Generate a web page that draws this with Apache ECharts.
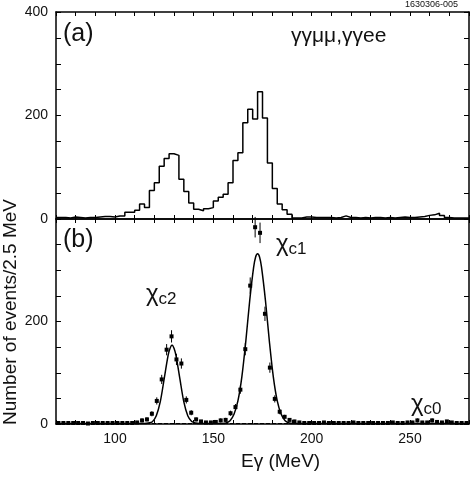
<!DOCTYPE html>
<html><head><meta charset="utf-8">
<script src="https://cdn.jsdelivr.net/npm/echarts@6/dist/echarts.min.js"></script>
<style>html,body{margin:0;padding:0;background:#fff}#c{width:474px;height:478px}</style>
</head><body><div id="c"></div>
<script>
// histogram (a): 84 bins of 2.5 MeV starting at 70 MeV
const binStart = 70, binWidth = 2.5;
const histA = [3,3,2,4,3,2,3,3,4,5,5,4,6,6,13,13,17,29,22,55,70,102,117,126,123,77,53,31,19,16,20,22,35,42,48,70,113,128,186,212,193,246,195,108,59,29,18,9,2,2,4,4,3,3,3,3,2,3,6,3,3,2,3,2,3,3,2,3,2,3,4,3,3,4,5,7,8,11,7,3,2,2,2,2];
// points (b), bin centers
const ptsB = [2,2,2,2,2,2,1,2,2,2,2,2,2,2,2,2,3,7,9,20,45,87,145,171,126,118,47,22,9,5,3,3,4,7,8,21,33,67,146,270,384,373,215,110,49,24,14,8,5,3,2,2,2,2,3,2,2,2,2,2,3,2,2,2,2,2,2,2,3,2,2,3,3,7,3,3,7,4,3,5,3,2,2,2];
const errB = [2,2,2,2,2,2,2,2,2,2,2,2,2,2,2,2,3,4,4,5,7,9,11,12,11,10,7,5,4,3,3,3,3,4,4,5,6,8,12,16,20,20,14,10,7,5,4,3,3,3,2,2,2,2,3,2,2,2,2,2,3,2,2,2,2,2,2,2,3,2,2,3,3,4,3,3,4,3,3,3,3,2,2,2];
// fit curve
const fitX = [70,115,117,119,121,123,125,127,128,129,130,131,133,135,137,139,141,143,150,154.5,156.5,158.5,160.5,162.5,164.5,166.5,168.5,170.5,171.5,172.5,173.5,174.5,176.5,178.5,180.5,182.5,184.5,186.5,188.5,190.5,195,280];
const fitY = [1,1,2,4.5,16,43,88,134,148,154,148,134,88,43,16,5,2,1,1,1,2,6.5,19,45,92,161,241,306,326,332,326,306,241,161,92,45,19,6.5,2,1,1,1];
const xTicks = [100,150,200,250];

const histData = histA.map((v,i)=>[binStart+i*binWidth, v]);
histData.push([binStart+histA.length*binWidth, histA[histA.length-1]]);
const ptData = ptsB.map((v,i)=>[binStart+(i+0.5)*binWidth, v, errB[i]]);
const fitData = fitX.map((x,i)=>[x, fitY[i]]);

const font = 'Liberation Sans, Arial, sans-serif';
const grids = [{left:56,right:5,top:12,height:207},{left:56,right:5,top:219,height:205}];
function xa(g,pos,show){return {type:'value',gridIndex:g,min:70,max:280,interval:10,position:pos,
  axisLine:{show:true,onZero:false,lineStyle:{color:'#000',width:1.5}},
  axisTick:{inside:true,length:4,lineStyle:{color:'#000'}},
  axisLabel:{show:show,color:'#111',fontSize:14,fontFamily:font,margin:8,formatter:v=>xTicks.includes(v)?String(v):''},
  splitLine:{show:false}};}
function ya(g,pos,show,hideTop){return {type:'value',gridIndex:g,min:0,max:400,interval:50,position:pos,
  axisLine:{show:true,lineStyle:{color:'#000',width:1.5}},
  axisTick:{inside:true,length:5,lineStyle:{color:'#000'}},
  axisLabel:{show:show,color:'#111',fontSize:14,fontFamily:font,formatter:v=>(v%200===0 && !(hideTop&&v===400))?String(v):''},
  splitLine:{show:false}};}

const chart = echarts.init(document.getElementById('c'));
chart.setOption({
  animation:false,
  grid:grids,
  xAxis:[xa(0,'bottom',false),xa(0,'top',false),xa(1,'bottom',true),xa(1,'top',false)],
  yAxis:[ya(0,'left',true,false),ya(0,'right',false,false),ya(1,'left',true,true),ya(1,'right',false,false)],
  series:[
    {type:'line',xAxisIndex:0,yAxisIndex:0,step:'end',data:histData,symbol:'none',lineStyle:{color:'#000',width:1.5}},
    {type:'line',xAxisIndex:2,yAxisIndex:2,data:fitData,smooth:0.3,symbol:'none',lineStyle:{color:'#000',width:1.5},
      markLine:{silent:true,symbol:'none',label:{show:false},lineStyle:{color:'#000',type:'dashed',width:1},data:[{yAxis:2}]}},
    {type:'custom',xAxisIndex:2,yAxisIndex:2,data:ptData,
      renderItem:(p,api)=>{const x=api.value(0),y=api.value(1),e=api.value(2);
        const c=api.coord([x,y]),lo=api.coord([x,y-e]),hi=api.coord([x,y+e]);
        return {type:'group',children:[
          {type:'line',shape:{x1:c[0],y1:lo[1],x2:c[0],y2:hi[1]},style:{stroke:'#000',lineWidth:1}},
          {type:'rect',shape:{x:c[0]-2,y:c[1]-2,width:4,height:4},style:{fill:'#000'}}]};}}
  ],
  graphic:[
    {type:'text',left:405,top:0,style:{text:'1630306-005',fontSize:9,fontFamily:font,fill:'#111'}},
    {type:'text',left:63,top:22,style:{text:'(a)',fontSize:25,fontFamily:font,fill:'#111'}},
    {type:'text',left:291,top:26,style:{text:'γγμμ,γγee',fontSize:21,fontFamily:font,fill:'#111'}},
    {type:'text',left:63,top:228,style:{text:'(b)',fontSize:25,fontFamily:font,fill:'#111'}},
    {type:'text',left:146,top:282,style:{text:'χ{s|c2}',fontSize:24,fontFamily:font,fill:'#111',rich:{s:{fontSize:17,fontFamily:font,padding:[10,0,0,0]}}}},
    {type:'text',left:276,top:232,style:{text:'χ{s|c1}',fontSize:24,fontFamily:font,fill:'#111',rich:{s:{fontSize:17,fontFamily:font,padding:[10,0,0,0]}}}},
    {type:'text',left:411,top:392,style:{text:'χ{s|c0}',fontSize:24,fontFamily:font,fill:'#111',rich:{s:{fontSize:17,fontFamily:font,padding:[10,0,0,0]}}}},
    {type:'text',left:241,top:452,style:{text:'Eγ (MeV)',fontSize:19,fontFamily:font,fill:'#111'}},
    {type:'text',x:1,y:425,rotation:Math.PI/2,style:{text:'Number of events/2.5 MeV',fontSize:19,fontFamily:font,fill:'#111'}}
  ]
});
</script></body></html>
